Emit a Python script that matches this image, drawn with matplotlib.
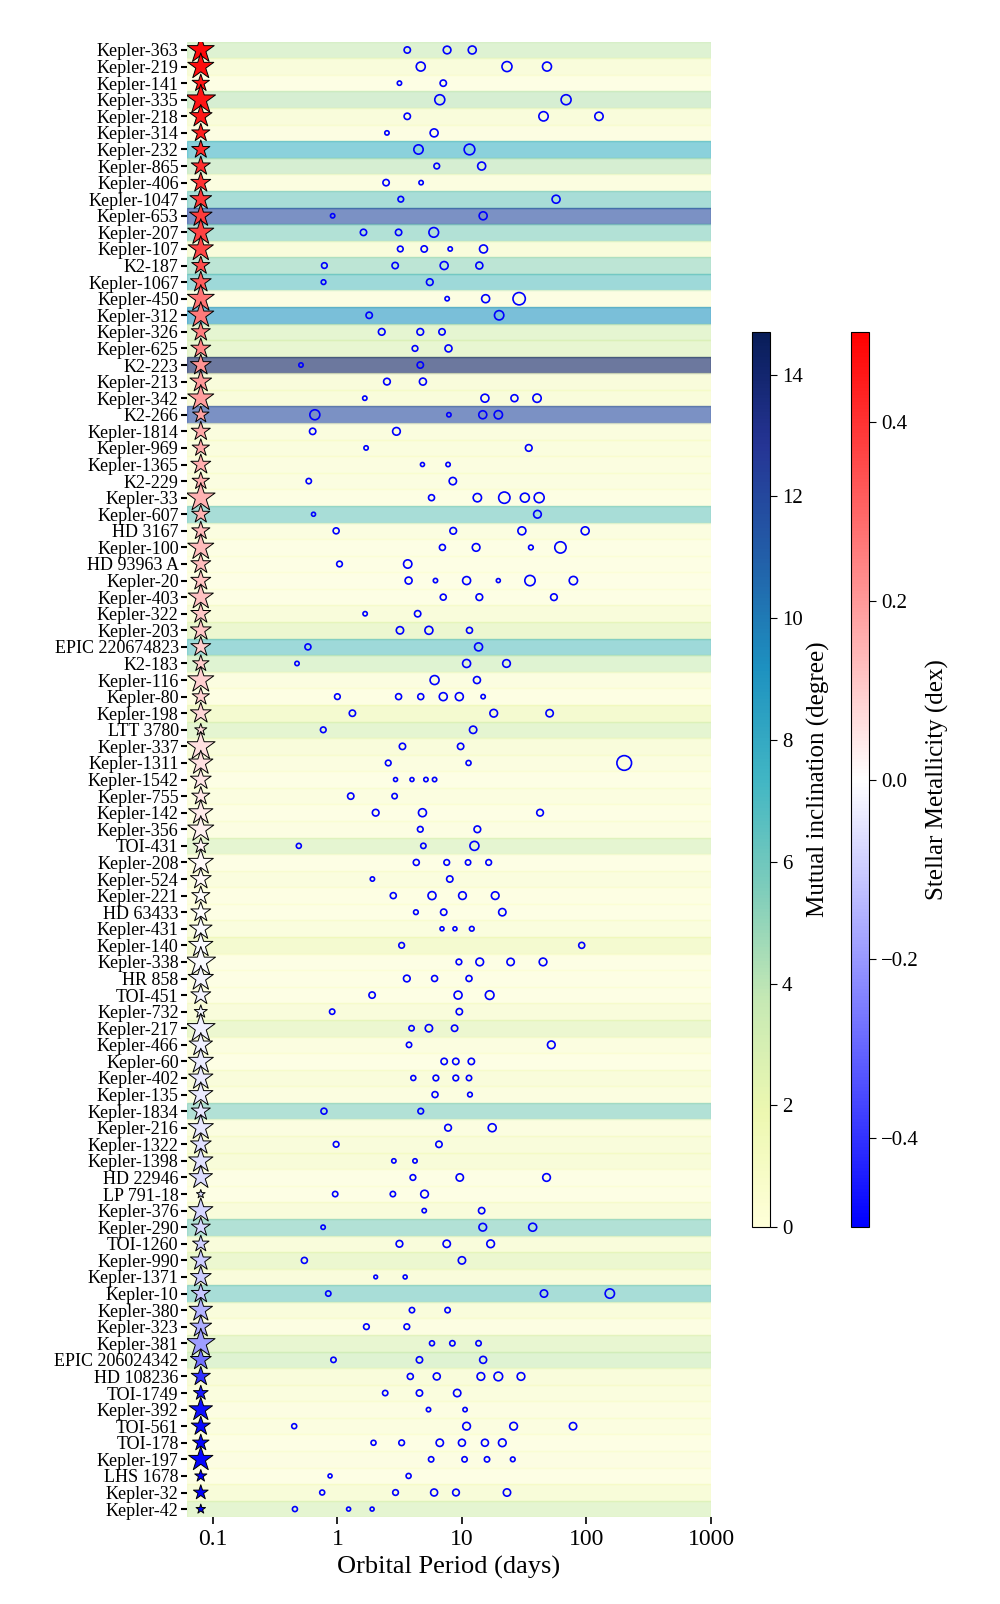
import numpy as np
import matplotlib
matplotlib.use('Agg')
import matplotlib.pyplot as plt
from matplotlib import cm, colors

plt.rcParams['font.family'] = ['Liberation Serif', 'DejaVu Serif']

# systems, top to bottom
names = ['Kepler-363', 'Kepler-219', 'Kepler-141', 'Kepler-335', 'Kepler-218', 'Kepler-314',
         'Kepler-232', 'Kepler-865', 'Kepler-406', 'Kepler-1047', 'Kepler-653', 'Kepler-207',
         'Kepler-107', 'K2-187', 'Kepler-1067', 'Kepler-450', 'Kepler-312', 'Kepler-326',
         'Kepler-625', 'K2-223', 'Kepler-213', 'Kepler-342', 'K2-266', 'Kepler-1814',
         'Kepler-969', 'Kepler-1365', 'K2-229', 'Kepler-33', 'Kepler-607', 'HD 3167',
         'Kepler-100', 'HD 93963 A', 'Kepler-20', 'Kepler-403', 'Kepler-322', 'Kepler-203',
         'EPIC 220674823', 'K2-183', 'Kepler-116', 'Kepler-80', 'Kepler-198', 'LTT 3780',
         'Kepler-337', 'Kepler-1311', 'Kepler-1542', 'Kepler-755', 'Kepler-142', 'Kepler-356',
         'TOI-431', 'Kepler-208', 'Kepler-524', 'Kepler-221', 'HD 63433', 'Kepler-431',
         'Kepler-140', 'Kepler-338', 'HR 858', 'TOI-451', 'Kepler-732', 'Kepler-217',
         'Kepler-466', 'Kepler-60', 'Kepler-402', 'Kepler-135', 'Kepler-1834', 'Kepler-216',
         'Kepler-1322', 'Kepler-1398', 'HD 22946', 'LP 791-18', 'Kepler-376', 'Kepler-290',
         'TOI-1260', 'Kepler-990', 'Kepler-1371', 'Kepler-10', 'Kepler-380', 'Kepler-323',
         'Kepler-381', 'EPIC 206024342', 'HD 108236', 'TOI-1749', 'Kepler-392', 'TOI-561',
         'TOI-178', 'Kepler-197', 'LHS 1678', 'Kepler-32', 'Kepler-42']

# mutual inclination (deg) -> band colour
incl = [3.6, 1.0, 0.3, 4.0, 1.0, 0.5, 7.5, 4.0, 0.6, 6.0, 12.0, 5.5,
        1.0, 5.0, 6.5, 0.5, 9.0, 3.0, 2.8, 14.5, 1.0, 1.0, 12.0, 0.8,
        0.8, 0.6, 0.6, 0.4, 6.0, 0.6, 0.3, 0.3, 0.2, 0.3, 1.0, 2.5,
        6.5, 3.5, 0.6, 0.4, 1.8, 3.0, 1.0, 0.6, 0.3, 0.6, 0.3, 0.5,
        3.0, 0.3, 0.8, 0.4, 0.3, 0.8, 1.8, 0.3, 0.3, 0.3, 1.0, 2.5,
        0.6, 0.3, 1.0, 0.6, 5.5, 0.6, 1.0, 1.2, 0.3, 0.3, 1.0, 5.5,
        1.0, 2.5, 1.0, 6.0, 1.0, 0.5, 2.8, 3.5, 1.0, 0.8, 0.5, 0.6,
        0.3, 0.5, 0.3, 1.2, 3.0]

# stellar metallicity (dex) -> star colour
feh = [0.48, 0.47, 0.46, 0.46, 0.45, 0.44, 0.42, 0.41, 0.40, 0.39, 0.38, 0.37,
       0.36, 0.35, 0.32, 0.27, 0.26, 0.25, 0.24, 0.21, 0.2, 0.19, 0.18, 0.17,
       0.17, 0.16, 0.16, 0.15, 0.15, 0.14, 0.13, 0.13, 0.12, 0.12, 0.11, 0.11,
       0.10, 0.10, 0.09, 0.09, 0.08, 0.07, 0.06, 0.06, 0.05, 0.05, 0.04, 0.03,
       0.02, 0.01, 0.01, 0.0, 0.0, -0.01, -0.01, -0.01, -0.02, -0.02, -0.02, -0.03,
       -0.03, -0.04, -0.04, -0.04, -0.05, -0.05, -0.06, -0.06, -0.07, -0.07, -0.08, -0.08,
       -0.09, -0.1, -0.1, -0.11, -0.15, -0.16, -0.19, -0.28, -0.4, -0.45, -0.47, -0.48,
       -0.49, -0.49, -0.5, -0.5, -0.5]

# relative stellar radius -> star size
rstar = [1.24, 1.2, 0.8, 1.36, 1.04, 0.84, 0.84, 0.88, 0.92, 1.0, 1.04, 1.2,
         1.16, 0.84, 0.96, 1.24, 1.2, 0.88, 0.92, 0.96, 1.0, 1.2, 0.76, 0.88,
         0.8, 0.92, 0.8, 1.32, 0.84, 0.84, 1.2, 0.92, 0.92, 1.16, 0.92, 0.96,
         0.92, 0.76, 1.2, 0.8, 0.96, 0.56, 1.32, 1.12, 0.96, 0.84, 1.12, 1.2,
         0.72, 1.16, 0.96, 0.84, 0.92, 1.04, 1.12, 1.36, 1.16, 0.92, 0.6, 1.32,
         1.08, 1.16, 1.12, 1.12, 0.88, 1.16, 0.96, 1.12, 1.08, 0.4, 1.12, 0.88,
         0.76, 0.96, 0.96, 0.88, 1.08, 1.0, 1.32, 0.96, 0.88, 0.68, 1.08, 0.88,
         0.76, 1.12, 0.56, 0.68, 0.44]

# orbital periods (days) per system
periods = [
    [3.64, 7.6, 12.1], [4.67, 23.0, 48.2], [3.15, 7.08], [6.64, 68.6], [3.64, 45.2, 126],
    [2.5, 5.98], [4.48, 11.5], [6.28, 14.4], [2.46, 4.7], [3.23, 57.0], [0.916, 14.8],
    [1.62, 3.1, 5.94], [3.2, 4.98, 8.05, 14.9], [0.786, 2.91, 7.2, 13.8], [0.774, 5.52],
    [7.61, 15.5, 28.8], [1.8, 19.9], [2.27, 4.63, 6.92], [4.2, 7.8], [0.51, 4.63],
    [2.5, 4.86], [1.66, 15.3, 26.4, 40.1], [0.659, 7.86, 14.7, 19.6], [0.633, 2.98],
    [1.7, 34.4], [4.82, 7.74], [0.589, 8.45], [5.7, 13.3, 21.9, 32.0, 41.7], [0.643, 40.4],
    [0.977, 8.51, 30.3, 97.6], [6.97, 13.0, 35.8, 61.8], [1.04, 3.67],
    [3.73, 6.13, 10.9, 19.6, 35.2, 78.5], [7.08, 13.8, 54.8], [1.67, 4.41],
    [3.18, 5.43, 11.5], [0.58, 13.6], [0.474, 10.9, 22.8], [6.03, 13.2],
    [1.0, 3.1, 4.67, 7.08, 9.53, 14.8], [1.32, 18.0, 50.6], [0.77, 12.3], [3.33, 9.76],
    [2.56, 11.3, 201], [2.93, 3.97, 5.14, 6.03], [1.28, 2.88], [2.03, 4.82, 42.4],
    [4.63, 13.3], [0.49, 4.9, 12.6], [4.3, 7.55, 11.2, 16.4], [1.91, 7.99],
    [2.81, 5.75, 10.1, 18.5], [4.27, 7.14, 21.1], [6.92, 8.79, 12.0], [3.28, 91.6],
    [9.46, 13.9, 24.6, 44.8], [3.61, 6.03, 11.4], [1.9, 9.31, 16.7], [0.908, 9.53],
    [3.94, 5.43, 8.73], [3.76, 52.2], [7.2, 8.93, 11.9], [4.07, 6.18, 8.93, 11.4],
    [6.08, 11.6], [0.78, 4.67], [7.74, 17.5], [0.977, 6.54], [2.84, 4.2],
    [4.04, 9.61, 47.8], [0.96, 2.79, 5.01], [4.98, 14.4], [0.768, 14.7, 37.0],
    [3.15, 7.55, 17.0], [0.543, 10.0], [2.03, 3.5], [0.845, 45.6, 154],
    [3.97, 7.67], [1.71, 3.61], [5.75, 8.38, 13.6], [0.93, 4.56, 14.8],
    [3.85, 6.28, 14.2, 19.6, 29.8], [2.42, 4.56, 9.16], [5.39, 10.6],
    [0.45, 10.9, 26.0, 78.0], [1.95, 3.28, 6.64, 10.0, 15.3, 21.1],
    [5.66, 10.5, 15.9, 25.6], [0.873, 3.73], [0.755, 2.93, 5.98, 8.96, 23.0],
    [0.456, 1.23, 1.9]]

# planet radii (earth radii, rough) per system
pradii = [
    [1.9, 2.3, 2.4], [2.7, 3.0, 2.7], [1.3, 1.9], [3.0, 3.0], [1.9, 2.8, 2.5],
    [1.3, 2.4], [2.8, 3.2], [1.7, 2.4], [1.9, 1.3], [1.7, 2.4], [1.3, 2.4],
    [1.9, 1.9, 2.9], [1.7, 1.9, 1.3, 2.4], [1.7, 1.9, 2.4, 2.1], [1.4, 2.0],
    [1.3, 2.4, 3.7], [1.9, 2.8], [2.0, 2.0, 1.9], [1.7, 2.1], [1.3, 1.9],
    [2.0, 2.1], [1.3, 2.4, 2.1, 2.5], [3.0, 1.3, 2.4, 2.5], [1.9, 2.3],
    [1.3, 2.0], [1.2, 1.3], [1.6, 2.2], [1.8, 2.5, 3.4, 2.7, 3.0], [1.2, 2.3],
    [1.8, 2.0, 2.4, 2.4], [1.8, 2.3, 1.4, 3.4], [1.7, 2.5],
    [2.1, 1.3, 2.4, 1.2, 3.1, 2.5], [1.8, 2.0, 2.0], [1.3, 1.9],
    [2.2, 2.4, 1.8], [1.8, 2.4], [1.3, 2.4, 2.3], [2.7, 2.1],
    [1.7, 1.8, 1.8, 2.4, 2.4, 1.3], [1.9, 2.3, 2.2], [1.7, 2.2], [1.9, 1.9],
    [1.7, 1.5, 4.4], [1.2, 1.2, 1.3, 1.3], [1.9, 1.6], [2.0, 2.4, 2.0],
    [1.7, 2.0], [1.5, 1.6, 2.7], [1.8, 1.7, 1.6, 1.7], [1.3, 1.9],
    [1.8, 2.4, 2.3, 2.3], [1.4, 1.9, 2.2], [1.2, 1.2, 1.4], [1.7, 1.8],
    [1.7, 2.3, 2.2, 2.3], [2.0, 1.8, 1.8], [1.9, 2.4, 2.6], [1.6, 1.9],
    [1.6, 2.2, 1.9], [1.6, 2.3], [1.9, 1.9, 1.9], [1.5, 1.7, 1.7, 1.6],
    [1.8, 1.4], [1.8, 1.7], [2.0, 2.4], [1.7, 1.9], [1.3, 1.3],
    [1.7, 2.2, 2.3], [1.6, 1.6, 2.3], [1.3, 1.9], [1.3, 2.3, 2.4],
    [2.0, 2.2, 2.3], [1.8, 2.2], [1.1, 1.2], [1.6, 2.2, 2.8],
    [1.6, 1.6], [1.7, 1.7], [1.5, 1.6, 1.6], [1.6, 1.9, 2.1],
    [1.8, 2.1, 2.3, 2.6, 2.3], [1.6, 1.9, 2.2], [1.3, 1.3],
    [1.5, 2.3, 2.3, 2.2], [1.5, 1.7, 2.2, 2.1, 2.1, 2.3],
    [1.6, 1.6, 1.6, 1.4], [1.2, 1.5], [1.5, 1.7, 2.1, 2.0, 2.2],
    [1.5, 1.2, 1.2]]

xticks = [0.1, 1, 10, 100, 1000]
xtick_labels = ['0.1', '1', '10', '100', '1000']

n = len(names)
inc_norm = colors.Normalize(vmin=0, vmax=14.7)
inc_cmap = plt.get_cmap('YlGnBu')
feh_norm = colors.Normalize(vmin=-0.5, vmax=0.5)
feh_cmap = plt.get_cmap('bwr')

fig = plt.figure(figsize=(10, 16.04), dpi=100)
ax = fig.add_axes([0.187, 0.054, 0.524, 0.920])

for i in range(n):
    ax.axhspan(i - 0.5, i + 0.5, color=inc_cmap(inc_norm(incl[i])), alpha=0.6)

for i in range(n):
    y = np.full(len(periods[i]), i)
    s = (2.4 * np.array(pradii[i])) ** 2
    ax.scatter(periods[i], y, s=s, facecolors='none', edgecolors='blue',
               linewidths=1.2, zorder=3)

star_x = np.full(n, 0.08)
ax.scatter(star_x, np.arange(n), s=(16.4 * np.array(rstar)) ** 2, marker='*',
           c=feh, cmap=feh_cmap, norm=feh_norm, edgecolors='black',
           linewidths=0.7, zorder=4)

ax.set_xscale('log')
ax.set_xlim(0.062, 1000)
ax.set_ylim(n - 0.5, -0.5)
ax.set_yticks(np.arange(n))
ax.set_yticklabels(names, fontsize=13)
ax.set_xticks(xticks)
ax.set_xticklabels(xtick_labels, fontsize=17)
ax.xaxis.set_minor_locator(matplotlib.ticker.NullLocator())
ax.tick_params(axis='y', length=4, width=1.5, pad=2)
ax.tick_params(axis='x', length=5, width=1.2)
ax.set_xlabel('Orbital Period (days)', fontsize=19, labelpad=4)
for sp in ax.spines.values():
    sp.set_visible(False)

cax1 = fig.add_axes([0.7515, 0.235, 0.0185, 0.558])
cb1 = fig.colorbar(cm.ScalarMappable(norm=inc_norm, cmap=inc_cmap), cax=cax1)
cb1.set_ticks([0, 2, 4, 6, 8, 10, 12, 14])
cb1.ax.tick_params(labelsize=15, length=5)
cb1.set_label('Mutual inclination (degree)', fontsize=18, labelpad=3)

cax2 = fig.add_axes([0.851, 0.235, 0.0185, 0.558])
cb2 = fig.colorbar(cm.ScalarMappable(norm=feh_norm, cmap=feh_cmap), cax=cax2)
cb2.set_ticks([-0.4, -0.2, 0.0, 0.2, 0.4])
cb2.ax.tick_params(labelsize=15, length=5)
cb2.set_label('Stellar Metallicity (dex)', fontsize=18, labelpad=5)

fig.savefig('out.png', dpi=100)
